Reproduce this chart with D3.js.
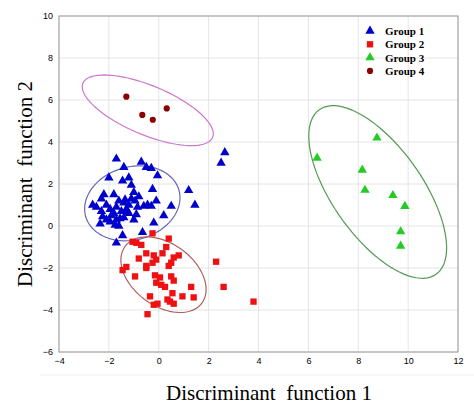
<!DOCTYPE html><html><head><meta charset="utf-8"><script src="https://cdn.jsdelivr.net/npm/d3@7"></script>
<style>body{margin:0;background:#fff}</style></head><body><svg id="c" width="474" height="406"></svg><script>
const xTicks=[-4,-2,0,2,4,6,8,10,12], yTicks=[-6,-4,-2,0,2,4,6,8,10];
const groupNames=["Group 1","Group 2","Group 3","Group 4"];
const groupColors=["#0000cc","#ee1111","#22cc22","#8b0000"];
const group1=[[-1.7,3.2],[-0.7,3.05],[-1.4,2.8],[-0.5,2.8],[-0.3,2.75],[-2.0,2.3],[-1.2,2.3],[-1.45,2.15],[-0.05,2.4],[-1.1,1.95],[-2.2,1.5],[-2.3,1.3],[-1.8,1.5],[-1.0,1.6],[-0.8,1.4],[-0.25,1.75],[1.2,1.7],[-2.65,1.0],[-2.5,0.9],[-2.3,0.7],[-2.1,1.0],[-1.95,0.8],[-1.8,0.6],[-1.7,0.9],[-1.6,1.2],[-1.4,1.1],[-1.3,0.8],[-1.2,1.0],[-1.1,1.3],[-0.95,1.2],[-0.85,0.9],[-1.35,1.25],[-0.6,0.95],[-0.45,1.0],[-0.3,0.95],[-0.1,1.2],[-1.55,0.35],[-1.7,0.3],[-1.9,0.5],[-2.1,0.3],[-2.35,0.1],[-1.75,0.05],[-1.6,0.0],[-1.4,0.4],[-1.2,0.6],[-1.0,0.3],[-0.9,0.55],[0.5,0.95],[1.45,1.0],[0.2,0.5],[-0.2,0.15],[-0.65,-0.3],[-1.45,-0.45],[-1.7,-0.8],[2.5,3.0],[2.65,3.5],[-1.25,0.7],[-1.5,0.7],[-2.25,0.45],[-1.95,0.2]];
const group2=[[-0.25,-0.35],[0.4,-0.6],[-1.05,-0.75],[-0.9,-0.8],[0.3,-1.0],[-0.7,-0.9],[-0.5,-1.3],[-0.2,-1.4],[0.15,-1.3],[0.6,-1.5],[0.8,-1.4],[-0.8,-1.55],[-0.1,-1.6],[0.5,-1.75],[-0.5,-1.9],[-0.5,-2.0],[0.4,-1.9],[-1.3,-1.95],[-1.45,-2.1],[-0.25,-1.75],[2.3,-1.7],[-0.95,-2.4],[-0.15,-2.35],[0.05,-2.45],[0.5,-2.4],[0.6,-2.6],[-0.1,-2.7],[0.1,-2.8],[0.25,-2.9],[1.3,-2.9],[2.6,-2.9],[0.55,-3.2],[-0.35,-3.35],[0.95,-3.35],[1.4,-3.4],[0.35,-3.5],[0.6,-3.7],[-0.2,-3.75],[-0.05,-3.7],[3.8,-3.6],[-0.45,-4.2],[0.45,-3.6]];
const group3=[[6.35,3.24],[8.75,4.2],[8.16,2.67],[8.27,1.71],[9.39,1.46],[9.87,0.94],[9.7,-0.27],[9.7,-0.95]];
const group4=[[-1.3,6.16],[-0.66,5.29],[-0.24,5.06],[0.32,5.6]];
const ellipses=[
 {c:[-1.06,1.08],a:[1.87,0.63],b:[0.40,-1.67],color:"#6666bb"},
 {c:[0.19,-2.32],a:[1.54,-1.35],b:[-0.74,-1.19],color:"#b06060"},
 {c:[8.78,1.62],a:[2.34,-3.92],b:[-1.47,-1.24],color:"#559955"},
 {c:[-0.44,5.51],a:[2.6,-1.29],b:[-0.38,-1.08],color:"#cc77cc"}];
const svg=d3.select("#c");
const x=d3.scaleLinear().domain([-4,12]).range([59,458]);
const y=d3.scaleLinear().domain([-6,10]).range([352,16]);
const grid=svg.append("g");
xTicks.forEach(t=>grid.append("line").attr("x1",x(t)).attr("x2",x(t)).attr("y1",y(-6)).attr("y2",y(10)).attr("stroke","#e4e4e4"));
yTicks.forEach(t=>grid.append("line").attr("y1",y(t)).attr("y2",y(t)).attr("x1",x(-4)).attr("x2",x(12)).attr("stroke","#e4e4e4"));
svg.append("rect").attr("x",59).attr("y",16).attr("width",399).attr("height",336).attr("fill","none").attr("stroke","#999");
svg.append("g").attr("transform","translate(0,352)").call(d3.axisBottom(x).tickValues(xTicks).tickSize(0).tickPadding(6)).call(g=>g.select(".domain").remove()).selectAll("text").attr("font-family","Arial").attr("font-size",9);
svg.append("g").attr("transform","translate(59,0)").call(d3.axisLeft(y).tickValues(yTicks).tickSize(0).tickPadding(6)).call(g=>g.select(".domain").remove()).selectAll("text").attr("font-family","Arial").attr("font-size",9);
svg.append("line").attr("x1",40).attr("x2",474).attr("y1",375).attr("y2",375).attr("stroke","#eee");
ellipses.forEach(e=>{
 const pts=d3.range(0,361,4).map(d=>{const t=d*Math.PI/180;return [x(e.c[0]+Math.cos(t)*e.a[0]+Math.sin(t)*e.b[0]),y(e.c[1]+Math.cos(t)*e.a[1]+Math.sin(t)*e.b[1])];});
 svg.append("path").attr("d",d3.line()(pts)+"Z").attr("fill","none").attr("stroke",e.color).attr("stroke-width",1.2);
});
const tri=d3.symbol().type(d3.symbolTriangle).size(38), sq=d3.symbol().type(d3.symbolSquare).size(40), circ=d3.symbol().type(d3.symbolCircle).size(30);
const sets=[[group1,tri],[group2,sq],[group3,tri],[group4,circ]];
sets.forEach(([data,sym],i)=>svg.append("g").selectAll("path").data(data).join("path").attr("d",sym).attr("transform",d=>`translate(${x(d[0])},${y(d[1])})`).attr("fill",groupColors[i]));
groupNames.forEach((n,i)=>{
 const yy=31+i*13.3;
 svg.append("path").attr("d",sets[i][1]).attr("transform",`translate(370,${yy})`).attr("fill",groupColors[i]);
 svg.append("text").attr("x",385).attr("y",yy+4).text(n).attr("font-family","Liberation Serif").attr("font-weight","bold").attr("font-size",11);
});
svg.append("text").attr("x",269).attr("y",400).attr("text-anchor","middle").text("Discriminant  function 1").attr("font-family","Liberation Serif").attr("font-size",21).style("white-space","pre");
svg.append("text").attr("transform","translate(32,184) rotate(-90)").attr("text-anchor","middle").text("Discriminant  function 2").attr("font-family","Liberation Serif").attr("font-size",21).style("white-space","pre");
</script></body></html>
